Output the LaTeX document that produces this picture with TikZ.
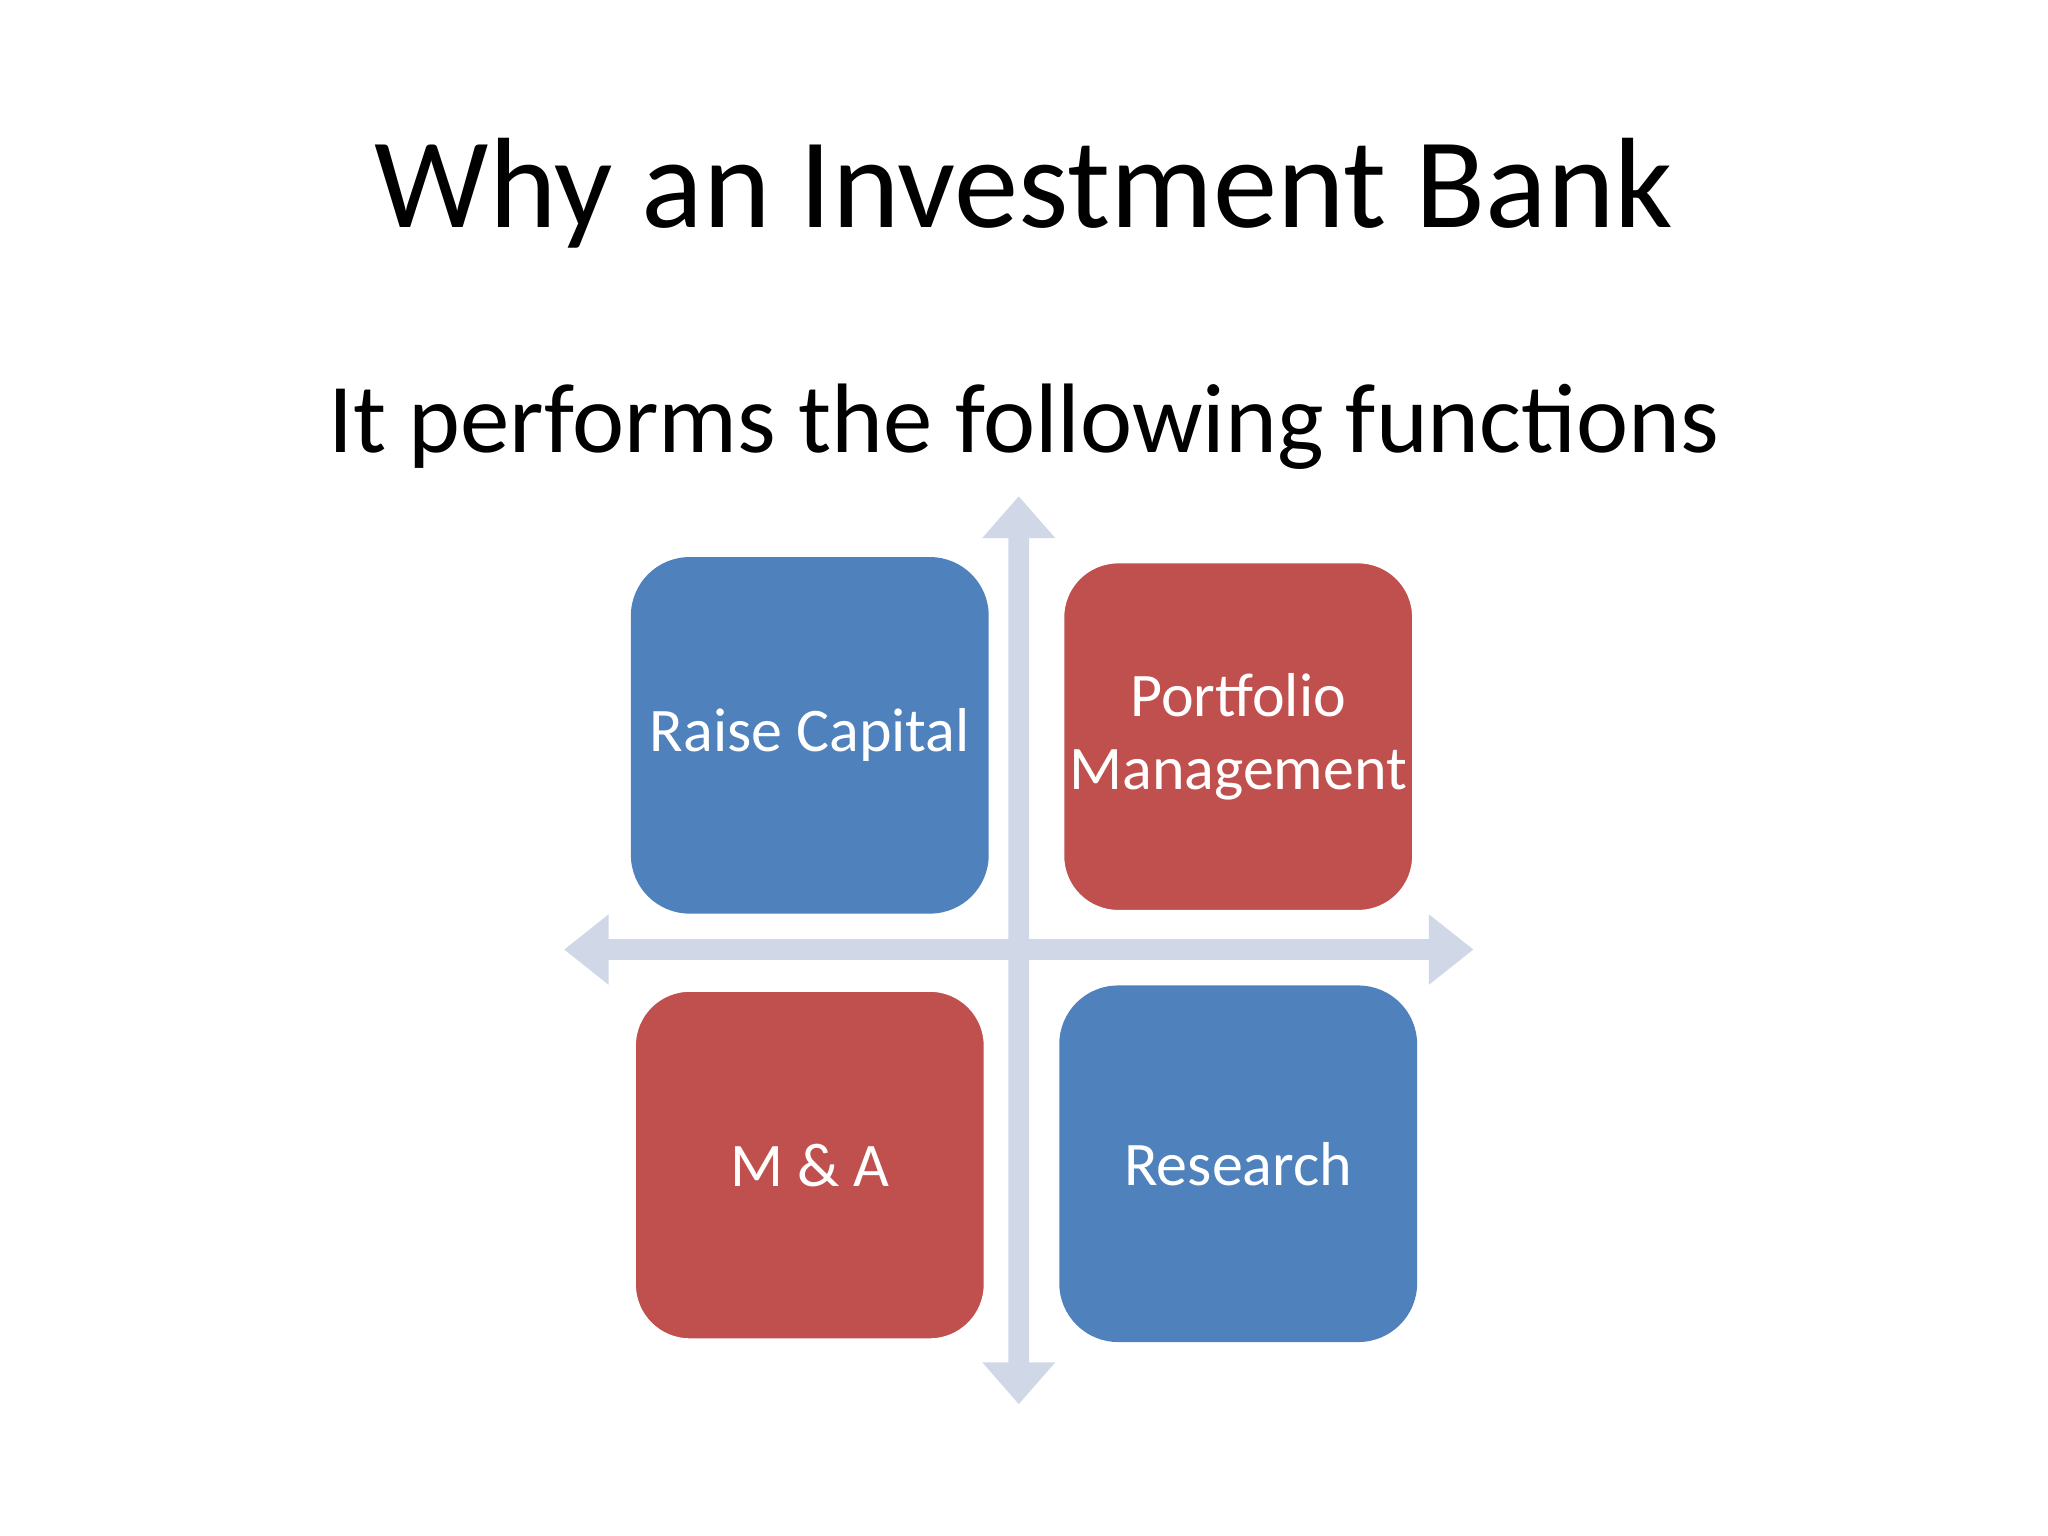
\documentclass[tikz,border=0pt]{standalone}
\usepackage{fontspec}
\setmainfont{Carlito}
\definecolor{axisc}{HTML}{D0D8E8}
\definecolor{bluec}{HTML}{4F81BD}
\definecolor{redc}{HTML}{C0504D}
\begin{document}
\begin{tikzpicture}[x=0.01cm,y=-0.01cm,
  box/.style={rounded corners=45*0.01cm,minimum width=274*0.01cm,minimum height=273*0.01cm,inner sep=0pt,text=white,font=\fontsize{13.5}{16}\selectfont,align=center},
  bluebox/.style={box,fill=bluec},
  redbox/.style={box,fill=redc,draw=white,line width=2.2pt,
     preaction={fill=black!25,opacity=0.35,transform canvas={shift={(0.02cm,-0.03cm)}}}}]
\useasboundingbox (0,0) rectangle (1568,1176);
\node (title) at (784,148) {\fontsize{28}{32}\selectfont Why an Investment Bank};
\node (sub) at (784,327) {\fontsize{21.5}{26}\selectfont It performs the following functions};
% axes
\fill[axisc] (780,380) -- (808,412) -- (788,412) -- (788,1043) -- (808,1043) -- (780,1075) -- (752,1043) -- (772,1043) -- (772,412) -- (752,412) -- cycle;
\fill[axisc] (432,727) -- (466,700) -- (466,719) -- (1094,719) -- (1094,700) -- (1128,727) -- (1094,754) -- (1094,735) -- (466,735) -- (466,754) -- cycle;
\node[bluebox] (rc) at (620,563) {Raise Capital};
\node[redbox] (pm) at (948,564) {Portfolio\\Management};
\node[redbox] (ma) at (620,892) {M \& A};
\node[bluebox] (rs) at (948,891) {Research};
\end{tikzpicture}
\end{document}
